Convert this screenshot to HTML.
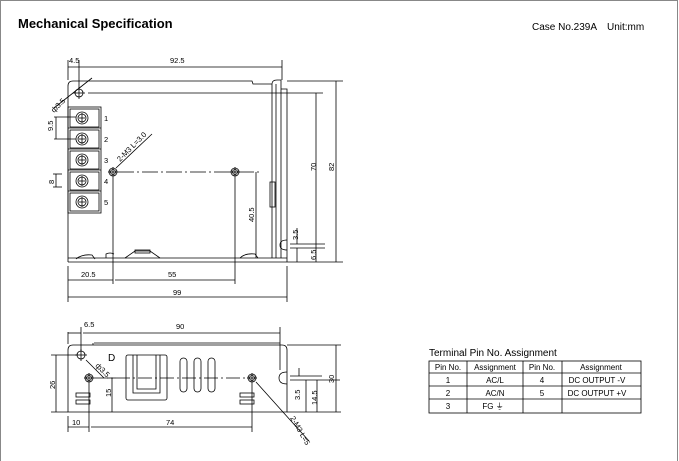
<!DOCTYPE html>
<html><head><meta charset="utf-8"><style>
html,body{margin:0;padding:0;background:#fff}
svg{display:block}
text{font-family:"Liberation Sans",sans-serif;fill:#000}
</style></head><body>
<svg width="679" height="461" viewBox="0 0 679 461" xmlns="http://www.w3.org/2000/svg">
<rect x="0.5" y="0.5" width="677" height="470" fill="none" stroke="#888" stroke-width="1"/>
<text x="18" y="28" font-size="13" font-weight="bold">Mechanical Specification</text>
<text x="532" y="30" font-size="10">Case No.239A</text>
<text x="607" y="30" font-size="10">Unit:mm</text>

<g stroke="#000" stroke-width="0.8" fill="none">
<path d="M68 262 L68 86 Q68 81 73 81 L252 81 L253 84 L272 84"/>
<line x1="68" y1="258" x2="287" y2="258"/>
<line x1="68" y1="262" x2="287" y2="262"/>
<path d="M272 258 L272 84 Q272 80 277 80 L281 80 L281 258"/>
<path d="M276 258 L276 84"/>
<path d="M281 89 L287 89 L287 262"/>
<rect x="270" y="182" width="5" height="25"/>
<path d="M287 240 Q280 240 280 245 Q280 250 287 250"/>
<path d="M76 259 Q82 254 92 255 L95 259"/>
<path d="M106 258 L106 254 Q110 252 114 254"/>
<path d="M125 258 L135 251 L150 251 L160 258"/>
<rect x="135" y="250" width="15" height="3"/>
<path d="M240 258 Q245 253 255 254 L258 258"/>
<rect x="68" y="107" width="33" height="106"/>
<line x1="68" y1="128" x2="101" y2="128"/><line x1="68" y1="149" x2="101" y2="149"/>
<line x1="68" y1="170" x2="101" y2="170"/><line x1="68" y1="191" x2="101" y2="191"/>
<rect x="70" y="109" width="29" height="18"/><rect x="70" y="130" width="29" height="18"/>
<rect x="70" y="151" width="29" height="18"/><rect x="70" y="172" width="29" height="18"/>
<rect x="70" y="193" width="29" height="18"/>
<g>
<circle cx="82" cy="118" r="6"/><circle cx="82" cy="118" r="4"/><line x1="82" y1="113" x2="82" y2="123"/><line x1="79" y1="118" x2="85" y2="118"/>
<circle cx="82" cy="139" r="6"/><circle cx="82" cy="139" r="4"/><line x1="82" y1="134" x2="82" y2="144"/><line x1="79" y1="139" x2="85" y2="139"/>
<circle cx="82" cy="160" r="6"/><circle cx="82" cy="160" r="4"/><line x1="82" y1="155" x2="82" y2="165"/><line x1="79" y1="160" x2="85" y2="160"/>
<circle cx="82" cy="181" r="6"/><circle cx="82" cy="181" r="4"/><line x1="82" y1="176" x2="82" y2="186"/><line x1="79" y1="181" x2="85" y2="181"/>
<circle cx="82" cy="202" r="6"/><circle cx="82" cy="202" r="4"/><line x1="82" y1="197" x2="82" y2="207"/><line x1="79" y1="202" x2="85" y2="202"/>
</g>
<circle cx="79" cy="93" r="4"/><line x1="79" y1="87" x2="79" y2="99"/><line x1="73" y1="93" x2="85" y2="93"/>
<circle cx="113" cy="172" r="4"/><circle cx="113" cy="172" r="2.5"/><line x1="113" y1="167" x2="113" y2="177"/><line x1="108" y1="172" x2="118" y2="172"/>
<circle cx="235" cy="172" r="4"/><circle cx="235" cy="172" r="2.5"/><line x1="235" y1="167" x2="235" y2="177"/><line x1="230" y1="172" x2="240" y2="172"/>
<line x1="118" y1="172" x2="260" y2="172" stroke-dasharray="16,3,2,3"/>
<line x1="88" y1="93" x2="323" y2="93"/>
<line x1="54" y1="108" x2="92" y2="78"/>
<line x1="116" y1="168" x2="152" y2="134"/>
<line x1="68" y1="60" x2="68" y2="80"/><line x1="79" y1="60" x2="79" y2="90"/><line x1="282" y1="60" x2="282" y2="80"/>
<line x1="68" y1="67" x2="282" y2="67"/>
<line x1="287" y1="81" x2="343" y2="81"/><line x1="287" y1="262" x2="343" y2="262"/>
<line x1="316" y1="93" x2="316" y2="262"/><line x1="336" y1="81" x2="336" y2="262"/>
<line x1="256" y1="172" x2="256" y2="258"/>
<line x1="290" y1="244" x2="325" y2="244"/><line x1="290" y1="248" x2="325" y2="248"/>
<line x1="297" y1="228" x2="297" y2="244"/><line x1="297" y1="248" x2="297" y2="262"/>
<line x1="54" y1="117" x2="76" y2="117"/><line x1="54" y1="139" x2="76" y2="139"/><line x1="56" y1="117" x2="56" y2="139"/>
<line x1="53" y1="174" x2="62" y2="174"/><line x1="53" y1="187" x2="62" y2="187"/><line x1="56" y1="174" x2="56" y2="187"/>
<line x1="68" y1="266" x2="68" y2="302"/><line x1="113" y1="177" x2="113" y2="284"/><line x1="235" y1="177" x2="235" y2="284"/><line x1="287" y1="266" x2="287" y2="302"/>
<line x1="68" y1="280" x2="113" y2="280"/><line x1="115" y1="280" x2="235" y2="280"/>
<line x1="68" y1="297" x2="287" y2="297"/>

<path d="M68 412 L68 350 Q68 345 73 345 L282 345 Q287 345 287 350 L287 412 Z"/>
<line x1="93" y1="345" x2="93" y2="343"/>
<line x1="94" y1="343" x2="280" y2="343"/>
<circle cx="81" cy="355" r="4"/><line x1="81" y1="349" x2="81" y2="361"/><line x1="75" y1="355" x2="87" y2="355"/>
<circle cx="89" cy="378" r="4"/><circle cx="89" cy="378" r="2.5"/><line x1="89" y1="373" x2="89" y2="383"/><line x1="84" y1="378" x2="94" y2="378"/>
<circle cx="252" cy="378" r="4"/><circle cx="252" cy="378" r="2.5"/><line x1="252" y1="373" x2="252" y2="383"/><line x1="247" y1="378" x2="257" y2="378"/>
<line x1="94" y1="378" x2="247" y2="378" stroke-dasharray="14,3,2,3"/>
<rect x="126" y="355" width="41" height="45" rx="2"/>
<path d="M133 355 L133 393 L160 393 L160 355"/><path d="M137 355 L137 389 L156 389 L156 355"/>
<rect x="180" y="358" width="7" height="34" rx="3.5"/><rect x="194" y="358" width="7" height="34" rx="3.5"/><rect x="208" y="358" width="7" height="34" rx="3.5"/>
<rect x="76" y="393" width="14" height="4"/><rect x="76" y="400" width="14" height="4"/>
<rect x="240" y="393" width="14" height="4"/><rect x="240" y="400" width="14" height="4"/>
<path d="M287 372 Q279 372 279 378 Q279 384 287 384"/>
<line x1="290" y1="376" x2="322" y2="376"/><line x1="290" y1="380" x2="340" y2="380"/>
<line x1="299" y1="368" x2="299" y2="376"/>
<line x1="306" y1="380" x2="306" y2="412"/><line x1="317" y1="380" x2="317" y2="412"/>
<line x1="287" y1="345" x2="341" y2="345"/><line x1="287" y1="412" x2="341" y2="412"/>
<line x1="336" y1="345" x2="336" y2="412"/>
<line x1="51" y1="355" x2="78" y2="355"/><line x1="51" y1="412" x2="68" y2="412"/><line x1="56" y1="355" x2="56" y2="412"/>
<line x1="107" y1="378" x2="116" y2="378"/><line x1="112" y1="378" x2="112" y2="412"/>
<line x1="86" y1="360" x2="104" y2="378"/>
<line x1="256" y1="382" x2="309" y2="441"/>
<line x1="68" y1="332" x2="68" y2="344"/><line x1="81" y1="327" x2="81" y2="352"/><line x1="280" y1="327" x2="280" y2="370"/>
<line x1="68" y1="333" x2="81" y2="333"/><line x1="83" y1="333" x2="280" y2="333"/>
<line x1="68" y1="416" x2="68" y2="432"/><line x1="89" y1="383" x2="89" y2="432"/><line x1="252" y1="383" x2="252" y2="432"/>
<line x1="68" y1="427" x2="89" y2="427"/><line x1="91" y1="427" x2="252" y2="427"/>
</g>

<g font-size="7.5">
<text x="69" y="63">4.5</text>
<text x="170" y="63">92.5</text>
<text x="104" y="121">1</text><text x="104" y="142">2</text><text x="104" y="163">3</text><text x="104" y="184">4</text><text x="104" y="205">5</text>
<text x="81" y="277">20.5</text><text x="168" y="277">55</text><text x="173" y="295">99</text>
<text x="84" y="327">6.5</text><text x="176" y="329">90</text>
<text x="72" y="425">10</text><text x="166" y="425">74</text>
<text transform="translate(53,131) rotate(-90)">9.5</text>
<text transform="translate(54,184) rotate(-90)">8</text>
<text transform="translate(316,171) rotate(-90)">70</text>
<text transform="translate(334,171) rotate(-90)">82</text>
<text transform="translate(254,222) rotate(-90)">40.5</text>
<text transform="translate(298,240) rotate(-90)">3.5</text>
<text transform="translate(316,260) rotate(-90)">6.5</text>
<text transform="translate(55,389) rotate(-90)">26</text>
<text transform="translate(111,397) rotate(-90)">15</text>
<text transform="translate(300,400) rotate(-90)">3.5</text>
<text transform="translate(317,405) rotate(-90)">14.5</text>
<text transform="translate(334,383) rotate(-90)">30</text>
<text transform="translate(54,113) rotate(-45)">ф3.5</text>
<text transform="translate(120,162) rotate(-45)">2-M3 L=3.0</text>
<text transform="translate(95,366) rotate(45)">ф3.5</text>
<text transform="translate(290,418) rotate(60)">2-M3 L=5</text>
<text x="108" y="361" font-size="10">D</text>
</g>

<text x="429" y="356" font-size="10">Terminal Pin No.  Assignment</text>
<g stroke="#000" stroke-width="0.8" fill="none">
<rect x="429" y="361" width="212" height="52"/>
<line x1="429" y1="373" x2="641" y2="373"/><line x1="429" y1="386" x2="641" y2="386"/><line x1="429" y1="399" x2="641" y2="399"/>
<line x1="467" y1="361" x2="467" y2="413"/><line x1="523" y1="361" x2="523" y2="413"/><line x1="562" y1="361" x2="562" y2="413"/>
</g>
<g font-size="8" text-anchor="middle">
<text x="448" y="370">Pin No.</text><text x="495" y="370">Assignment</text><text x="542" y="370">Pin No.</text><text x="601" y="370">Assignment</text>
<text x="448" y="383">1</text><text x="495" y="383">AC/L</text><text x="542" y="383">4</text><text x="597" y="383">DC OUTPUT -V</text>
<text x="448" y="396">2</text><text x="495" y="396">AC/N</text><text x="542" y="396">5</text><text x="597" y="396">DC OUTPUT +V</text>
<text x="448" y="409">3</text><text x="493" y="409">FG ⏚</text>
</g>
</svg>
</body></html>
